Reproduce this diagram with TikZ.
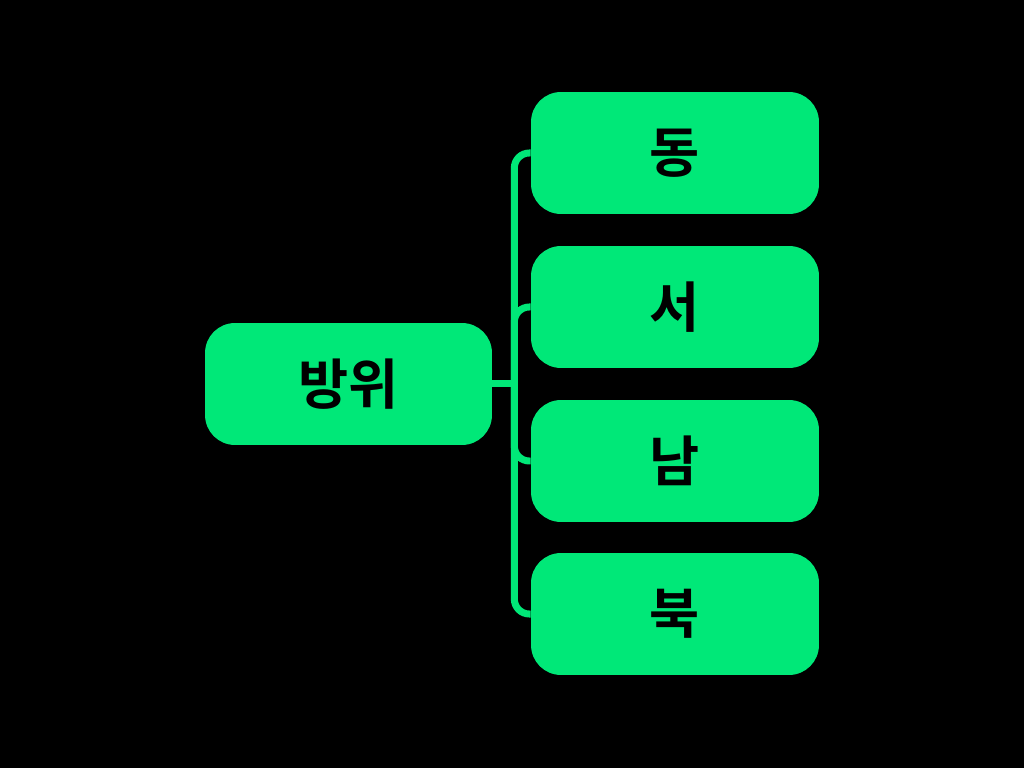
\documentclass[tikz,border=0pt]{standalone}
\usepackage{fontspec}
\newfontfamily\krfont{Noto Sans CJK KR}[BoldFont={* Bold}]
\usepackage{tikz}
\usetikzlibrary{positioning,calc}
\definecolor{leafgreen}{RGB}{0,232,120}

\begin{document}
\begin{tikzpicture}[x=0.02cm,y=0.02cm,
  box/.style={fill=leafgreen,rounded corners=0.6cm,minimum width=5.76cm,minimum height=2.44cm,inner sep=0pt,font=\krfont\bfseries\fontsize{31}{36}\selectfont,text=black},
  link/.style={draw=leafgreen,line width=0.14cm,rounded corners=0.3cm}]
\fill[black] (0,0) rectangle (1024,768);
\useasboundingbox (0,0) rectangle (1024,768);
% root and the four directions
\node[box,minimum width=5.74cm] (root) at (348.5,384) {방위};
\node[box] (east) at (675,615) {동};
\node[box] (west) at (675,461) {서};
\node[box] (south) at (675,307) {남};
\node[box] (north) at (675,154) {북};
\coordinate (hub) at ([xshift=0.44cm]root.east);
\draw[link] (root.east) -- (hub);
\foreach \leaf in {east,west,south,north} {\draw[link] (hub) |- (\leaf.west);}
\end{tikzpicture}
\end{document}
